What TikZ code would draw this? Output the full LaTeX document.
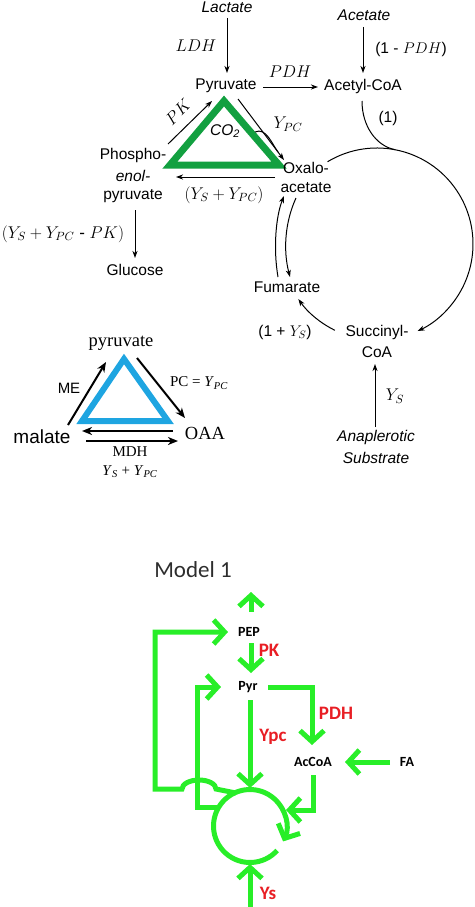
\documentclass[tikz,border=0pt]{standalone}
\usepackage{fix-cm}
\usepackage{fontspec}
\setmainfont{Liberation Sans}
\newfontfamily\tmsfont{Liberation Serif}
\newfontfamily\carlfont{Carlito}
\usetikzlibrary{arrows.meta}
\definecolor{tgreen}{RGB}{18,160,64}
\definecolor{tblue}{RGB}{30,165,225}
\definecolor{lgreen}{RGB}{40,238,40}
\definecolor{lred}{RGB}{232,30,36}
\definecolor{mgray}{RGB}{45,45,45}
\tikzset{
  lab/.style={font=\fontsize{15.5}{18}\selectfont, inner sep=0pt},
  ilab/.style={font=\fontsize{15.5}{18}\selectfont\itshape, inner sep=0pt},
  mlab/.style={font=\fontsize{17}{20}\selectfont, inner sep=0pt},
  blk/.style={-{Stealth[length=7pt,width=5pt,inset=2pt]}, line width=1pt},
  thk/.style={-{Stealth[length=10pt,width=8pt,inset=3pt]}, line width=2pt},
  tlab/.style={font=\tmsfont\fontsize{18.5}{21}\selectfont, inner sep=0pt},
  tslab/.style={font=\tmsfont\fontsize{15}{18}\selectfont, inner sep=0pt},
  glab/.style={font=\carlfont\bfseries\fontsize{14}{16}\selectfont, inner sep=0pt},
  rlab/.style={font=\carlfont\bfseries\fontsize{19}{22}\selectfont, text=lred, inner sep=0pt},
  garr/.style={lgreen, line width=5pt, -{Straight Barb[length=11pt,width=24pt]}},
  gline/.style={lgreen, line width=5pt},
}
\begin{document}
\begin{tikzpicture}[x=1pt,y=1pt,yscale=-1]
\useasboundingbox (0,0) rectangle (474,907);

% ---------------- top diagram ----------------
\draw[tgreen, line width=7pt, line join=miter] (224,101) -- (170,165) -- (279,165) -- cycle;

\node[ilab] (lac) at (227,7) {Lactate};
\node[ilab] (act) at (364,15) {Acetate};
\node[mlab] (ldh) at (196,46) {$LDH$};
\node[lab] (pyr) at (226,86) {Pyruvate};
\node[mlab] (pdh) at (290,72) {$PDH$};
\node[lab] (acoa) at (363,86) {Acetyl-CoA};
\node[lab] (onepdh) at (411,49) {(1 - $PDH$)};
\node[lab] (one) at (388,118) {(1)};
\node[ilab] (co2) at (225,131) {CO\textsubscript{2}};
\node[mlab, rotate=45] (pklab) at (178,112) {$PK$};
\node[mlab] (ypclab) at (288,124) {$Y_{PC}$};
\node[lab] (phos) at (133,155) {Phospho-};
\node[ilab] (enol) at (133,176) {enol-};
\node[lab] (pepy) at (133,196) {pyruvate};
\node[lab] (oxa) at (306,168) {Oxalo-};
\node[lab] (oxb) at (306,188) {acetate};
\node[mlab] (yspc) at (224,195) {$(Y_S + Y_{PC})$};
\node[mlab] (yspcpk) at (63,234) {$(Y_S + Y_{PC}$ - $PK)$};
\node[lab] (glu) at (135,270) {Glucose};
\node[lab] (fum) at (287,287) {Fumarate};
\node[lab] (onys) at (285,332) {(1 + $Y_S$)};
\node[lab] (sca) at (377,332) {Succinyl-};
\node[lab] (scb) at (377,352) {CoA};
\node[mlab] (yslab) at (395,396) {$Y_S$};
\node[ilab] (ana) at (376,437) {Anaplerotic};
\node[ilab] (sub) at (376,458) {Substrate};

\coordinate (lac1) at (227,18);  \coordinate (lac2) at (227,73);
\coordinate (act1) at (363,27);  \coordinate (act2) at (363,73);
\coordinate (pd1) at (263,87);   \coordinate (pd2) at (318,87);
\coordinate (pk1) at (168,144);  \coordinate (pk2) at (212,101);
\coordinate (yp1) at (238,99);   \coordinate (yp2) at (284,160);
\coordinate (oe1) at (275,177);  \coordinate (oe2) at (176,177);
\coordinate (gl1) at (135,210);  \coordinate (gl2) at (135,258);
\coordinate (an1) at (375,427);  \coordinate (an2) at (375,364);
\coordinate (cen) at (377,244);

\draw[blk] (lac1) -- (lac2);
\draw[blk] (act1) -- (act2);
\draw[blk] (pd1) -- (pd2);
\draw[blk] (pk1) -- (pk2);
\draw[blk] (yp1) -- (yp2);
\draw[line width=1pt] (255,132) .. controls (266,127) and (272,144) .. (278,152);
\draw[blk] (oe1) -- (oe2);
\draw[blk] (gl1) -- (gl2);
\draw[blk] (an1) -- (an2);
% TCA circle
\draw[blk] ([shift={(-121:96)}]cen) arc[start angle=-121, end angle=65, radius=96];
\draw[blk] ([shift={(116:96)}]cen) arc[start angle=116, end angle=145, radius=96];
\draw[line width=1pt] (362,101) .. controls (362,126) and (376,146) .. ([shift={(-79:96)}]cen);
% oxaloacetate <-> fumarate
\draw[blk] (278,277) .. controls (273,248) and (276,216) .. (284,196);
\draw[blk] (296,198) .. controls (285,222) and (283,250) .. (290,277);

% ---------------- small triangle ----------------
\draw[tblue, line width=6pt, line join=miter] (124,359) -- (82,421) -- (168,421) -- cycle;
\node[tlab] (lpyr) at (121,343) {pyruvate};
\node[lab, font=\fontsize{15}{18}\selectfont] (me) at (69,388) {ME};
\node[tslab] (pc) at (199,383) {PC = \textit{Y}\textsubscript{\textit{PC}}};
\node[lab, font=\fontsize{19}{22}\selectfont] (mal) at (42,437) {malate};
\node[tlab] (oaa) at (205,433) {OAA};
\node[tslab] (mdh) at (130,452) {MDH};
\node[tslab] (mdhy) at (130,472) {\textit{Y}\textsubscript{\textit{S}} + \textit{Y}\textsubscript{\textit{PC}}};
\coordinate (me1) at (68,425);  \coordinate (me2) at (106,362);
\coordinate (pc1) at (137,358); \coordinate (pc2) at (185,418);
\coordinate (md1) at (173,431); \coordinate (md2) at (82,431);
\coordinate (md3) at (86,441);  \coordinate (md4) at (178,441);
\draw[thk] (me1) -- (me2);
\draw[thk] (pc1) -- (pc2);
\draw[thk] (md1) -- (md2);
\draw[thk] (md3) -- (md4);

% ---------------- Model 1 ----------------
\node[font=\carlfont\fontsize{23}{26}\selectfont, text=mgray, inner sep=0pt] (model) at (193,570) {Model 1};
\node[glab] (pep) at (249,632) {PEP};
\node[glab] (gpyr) at (248,687) {Pyr};
\node[glab] (gac) at (313,762) {AcCoA};
\node[glab] (fa) at (407,762) {FA};
\node[rlab] (pk) at (269,650) {PK};
\node[rlab] (ypc) at (273,737) {Ypc};
\node[rlab] (pdhg) at (336,713) {PDH};
\node[rlab] (ys) at (268,893) {Ys};
\coordinate (gc) at (250,826);
\coordinate (pu1) at (251,612); \coordinate (pu2) at (251,592);
\coordinate (pp1) at (251,643); \coordinate (pp2) at (251,673);
\coordinate (yc1) at (250,700); \coordinate (yc2) at (250,788);
\coordinate (pa1) at (268,687); \coordinate (pa2) at (312,745);
\coordinate (fa1) at (390,762); \coordinate (fa2) at (345,762);
\coordinate (ac1) at (313,775); \coordinate (ac2) at (286,810);
\coordinate (ys1) at (250,907); \coordinate (ys2) at (250,864);

\draw[garr] (pu1) -- (pu2);
\draw[garr] (pp1) -- (pp2);
\draw[garr] (yc1) -- (yc2);
\draw[garr] (pa1) -| (pa2);
\draw[garr] (fa1) -- (fa2);
\draw[garr] (ac1) |- (ac2);
\draw[garr] (ys1) -- (ys2);
\draw[garr] ([shift={(42:36.5)}]gc) arc[start angle=42, end angle=385, radius=36.5];
\draw[garr] (236,793) -- (216,789) arc[start angle=0, end angle=-180, x radius=17, y radius=9] -- (155,789) -- (155,632) -- (228,632);
\draw[garr] (219,807) -- (197,807) -- (197,687) -- (221,687);
\end{tikzpicture}
\end{document}
